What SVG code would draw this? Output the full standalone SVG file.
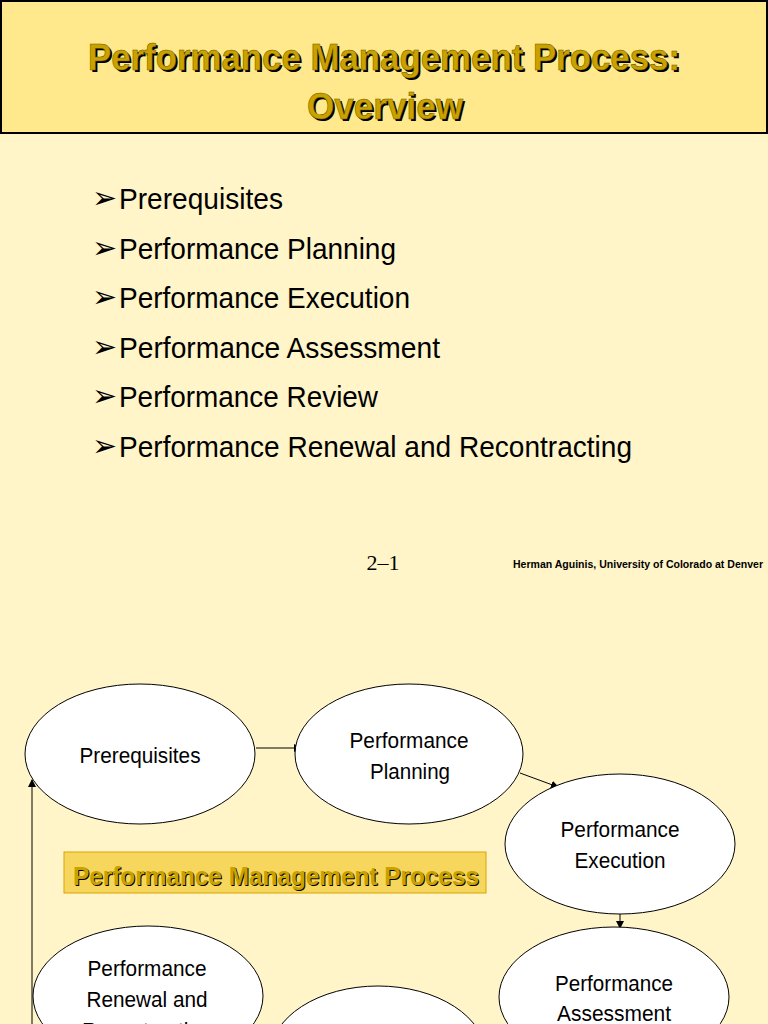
<svg xmlns="http://www.w3.org/2000/svg" width="768" height="1024" viewBox="0 0 768 1024">
<defs>
<marker id="ah" markerWidth="8" markerHeight="8" refX="7" refY="4" orient="auto" markerUnits="userSpaceOnUse"><path d="M0,0 L8,4 L0,8 Z" fill="#000"/></marker>
<style>
.t{font-family:"Liberation Sans",Arial,sans-serif;font-weight:bold;font-size:36px;fill:#C9A200;stroke:#6b5600;stroke-width:0.5}
.ts{font-family:"Liberation Sans",Arial,sans-serif;font-weight:bold;font-size:36px;fill:#000}
.b{font-family:"Liberation Sans",Arial,sans-serif;font-size:30px;fill:#000}
.n{font-family:"Liberation Sans",Arial,sans-serif;font-size:22px;fill:#000;text-anchor:middle}
.e{fill:#fff;stroke:#000;stroke-width:1}
.c{stroke:#000;stroke-width:1;fill:none}
</style>
</defs>
<rect width="768" height="1024" fill="#FFF5C9"/>
<g id="header">
<rect x="1" y="1" width="766" height="132" fill="#FFE98C" stroke="#000" stroke-width="2"/>
<text class="ts" x="386" y="72" text-anchor="middle" textLength="592" lengthAdjust="spacingAndGlyphs">Performance Management Process:</text>
<text class="t" x="384" y="70" text-anchor="middle" textLength="592" lengthAdjust="spacingAndGlyphs">Performance Management Process:</text>
<text class="ts" x="387" y="121" text-anchor="middle" textLength="156" lengthAdjust="spacingAndGlyphs">Overview</text>
<text class="t" x="385" y="119" text-anchor="middle" textLength="156" lengthAdjust="spacingAndGlyphs">Overview</text>
</g>
<g id="bullets">
<text class="b" x="92" y="208" font-size="26">➢</text><text class="b" x="119" y="209" textLength="164" lengthAdjust="spacingAndGlyphs">Prerequisites</text>
<text class="b" x="92" y="258" font-size="26">➢</text><text class="b" x="119" y="259" textLength="277" lengthAdjust="spacingAndGlyphs">Performance Planning</text>
<text class="b" x="92" y="307" font-size="26">➢</text><text class="b" x="119" y="308" textLength="291" lengthAdjust="spacingAndGlyphs">Performance Execution</text>
<text class="b" x="92" y="357" font-size="26">➢</text><text class="b" x="119" y="358" textLength="321" lengthAdjust="spacingAndGlyphs">Performance Assessment</text>
<text class="b" x="92" y="406" font-size="26">➢</text><text class="b" x="119" y="407" textLength="259" lengthAdjust="spacingAndGlyphs">Performance Review</text>
<text class="b" x="92" y="456" font-size="26">➢</text><text class="b" x="119" y="457" textLength="513" lengthAdjust="spacingAndGlyphs">Performance Renewal and Recontracting</text>
</g>
<text x="383" y="570" font-family="Liberation Serif,serif" font-size="22" text-anchor="middle">2–1</text>
<text x="513" y="568" font-family="Liberation Sans,Arial,sans-serif" font-size="10" font-weight="bold" textLength="250" lengthAdjust="spacingAndGlyphs">Herman Aguinis, University of Colorado at Denver</text>
<g id="connectors">
<line class="c" x1="256" y1="748" x2="301" y2="748" marker-end="url(#ah)"/>
<line class="c" x1="520" y1="773" x2="558" y2="787" marker-end="url(#ah)"/>
<line class="c" x1="620" y1="914" x2="620" y2="928" marker-end="url(#ah)"/>
<line class="c" x1="32" y1="1024" x2="32" y2="780" marker-end="url(#ah)"/>
</g>
<g id="n1"><ellipse class="e" cx="140" cy="754" rx="115" ry="70"/><text class="n" x="140" y="763" textLength="121" lengthAdjust="spacingAndGlyphs">Prerequisites</text></g>
<g id="n2"><ellipse class="e" cx="409" cy="754" rx="114" ry="70"/><text class="n" x="409" y="748" textLength="119" lengthAdjust="spacingAndGlyphs">Performance</text><text class="n" x="410" y="779" textLength="80" lengthAdjust="spacingAndGlyphs">Planning</text></g>
<g id="n3"><ellipse class="e" cx="620" cy="844" rx="115" ry="70"/><text class="n" x="620" y="837" textLength="119" lengthAdjust="spacingAndGlyphs">Performance</text><text class="n" x="620" y="868" textLength="91" lengthAdjust="spacingAndGlyphs">Execution</text></g>
<g id="n4"><ellipse class="e" cx="614" cy="997" rx="115" ry="70"/><text class="n" x="614" y="991" textLength="118" lengthAdjust="spacingAndGlyphs">Performance</text><text class="n" x="614" y="1021" textLength="114" lengthAdjust="spacingAndGlyphs">Assessment</text></g>
<g id="n5"><ellipse class="e" cx="378" cy="1056" rx="108" ry="70"/></g>
<g id="n6"><ellipse class="e" cx="148" cy="996" rx="115" ry="70"/><text class="n" x="147" y="976" textLength="119" lengthAdjust="spacingAndGlyphs">Performance</text><text class="n" x="147" y="1007" textLength="121" lengthAdjust="spacingAndGlyphs">Renewal and</text><text class="n" x="147" y="1038" textLength="130" lengthAdjust="spacingAndGlyphs">Recontracting</text></g>
<g id="label">
<rect x="64" y="852" width="422" height="41" fill="#F7D65E" stroke="#D9A300" stroke-width="1"/>
<text x="277" y="886" font-family="Liberation Sans,Arial,sans-serif" font-weight="bold" font-size="26" text-anchor="middle" fill="#000" textLength="406" lengthAdjust="spacingAndGlyphs">Performance Management Process</text>
<text x="276" y="885" font-family="Liberation Sans,Arial,sans-serif" font-weight="bold" font-size="26" text-anchor="middle" fill="#C9A200" textLength="406" lengthAdjust="spacingAndGlyphs">Performance Management Process</text>
</g>
</svg>
